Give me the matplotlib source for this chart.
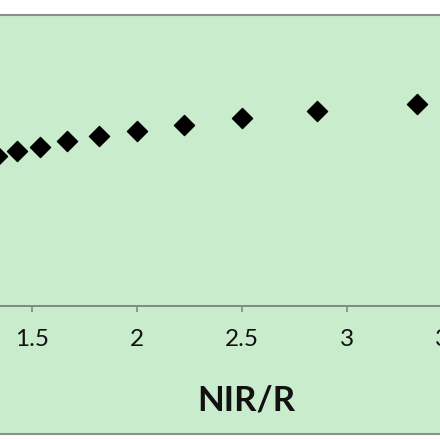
import matplotlib
matplotlib.use("Agg")
import matplotlib.pyplot as plt
from matplotlib.patches import Rectangle

# data
nir_r = [1.333, 1.429, 1.538, 1.667, 1.818, 2.0, 2.222, 2.5, 2.857, 3.333]
index_vals = [0.143, 0.176, 0.212, 0.250, 0.290, 0.333, 0.379, 0.429, 0.481, 0.538]
xtick_vals = [1.5, 2.0, 2.5, 3.0, 3.5]
xtick_labels = ["1.5", "2", "2.5", "3", "3.5"]
x_label = "NIR/R"

W = H = 440
green = "#C8ECCC"
grey = "#868686"

plt.rcParams['font.family'] = ['Lato', 'DejaVu Sans']

fig = plt.figure(figsize=(4.4, 4.4), dpi=100, facecolor="white")

# chart area background with border
rect = Rectangle((-0.02, (H - 434) / H), 1.04, (434 - 15) / H,
                 transform=fig.transFigure, facecolor=green,
                 edgecolor="#8C908C", linewidth=1.5, zorder=-5)
fig.add_artist(rect)

ax_left = -73 / W
ax_width = 525 / W
ax_bottom = (H - 306) / H
ax_height = (306 - 42.8) / H
ax = fig.add_axes([ax_left, ax_bottom, ax_width, ax_height])
ax.set_zorder(2)
ax.set_facecolor("none")
ax.set_xlim(1.0, 3.5)
ax.set_ylim(-1, 1)

ax.scatter(nir_r, index_vals, marker="D", s=105, color="black", zorder=3, clip_on=False)

for s in ["top", "right", "left"]:
    ax.spines[s].set_visible(False)
ax.spines["bottom"].set_color(grey)
ax.spines["bottom"].set_linewidth(1.4)
ax.set_yticks([])
ax.set_xticks(xtick_vals)
ax.set_xticklabels(xtick_labels, fontsize=17.5, color="#111111")
ax.tick_params(axis="x", direction="out", length=4.5, width=1.2, color=grey, pad=12)

fig.text(246 / W, 1 - 410 / H, x_label, ha="center", va="baseline",
         fontsize=25, fontweight="bold", color="#111111")

fig.savefig("out.png", dpi=100, facecolor="white")
